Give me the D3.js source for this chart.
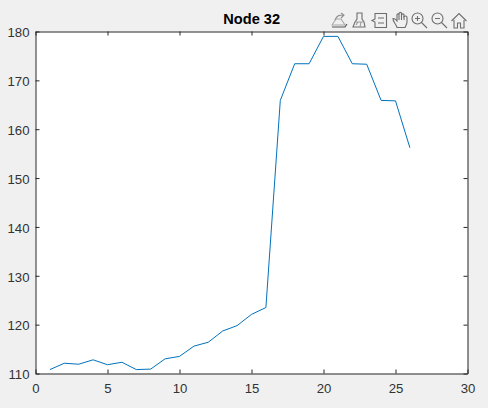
<!DOCTYPE html>
<html><head><meta charset="utf-8">
<script src="https://cdn.jsdelivr.net/npm/d3@7"></script>
<style>html,body{margin:0;padding:0;background:#f0f0f0;overflow:hidden}svg{display:block}text{font-family:"Liberation Sans",Arial,sans-serif}</style>
</head><body><svg id="c" width="488" height="408"></svg>
<script>
const chartTitle = "Node 32";
const nodeIndex = [1,2,3,4,5,6,7,8,9,10,11,12,13,14,15,16,17,18,19,20,21,22,23,24,25,26];
const nodeValues = [110.8,112.1,111.9,112.8,111.8,112.3,110.8,110.9,113,113.5,115.6,116.4,118.7,119.8,122.1,123.5,165.9,173.4,173.4,179,179,173.4,173.3,165.9,165.8,156.2];
const xTicks = [0,5,10,15,20,25,30];
const yTicks = [110,120,130,140,150,160,170,180];

const L=35.5,R=467.5,T=31.5,B=373.5;
const svg=d3.select("#c");
svg.append("rect").attr("width",488).attr("height",408).attr("fill","#f0f0f0");
svg.append("rect").attr("x",L).attr("y",T).attr("width",R-L).attr("height",B-T).attr("fill","#fff");
const x=d3.scaleLinear().domain([0,30]).range([L,R]);
const y=d3.scaleLinear().domain([110,180]).range([B,T]);

svg.append("path").datum(nodeValues)
  .attr("fill","none").attr("stroke","#0072bd").attr("stroke-width",1)
  .attr("d",d3.line().x((d,i)=>x(nodeIndex[i])).y(d=>y(d)));

const style=(g,hideLabels)=>{
  g.select(".domain").attr("stroke","#262626");
  g.selectAll(".tick line").attr("stroke","#262626");
  g.selectAll("text").attr("fill","#333").attr("font-size",13.2);
  if(hideLabels) g.selectAll("text").remove();
};
const ax=(gen,tx,ty,hide)=>svg.append("g").attr("transform",`translate(${tx},${ty})`).call(gen).call(g=>style(g,hide));
ax(d3.axisBottom(x).tickValues(xTicks).tickSize(-4).tickSizeOuter(0).tickPadding(10),0,B,false);
ax(d3.axisTop(x).tickValues(xTicks).tickSize(-4).tickSizeOuter(0),0,T,true);
ax(d3.axisLeft(y).tickValues(yTicks).tickSize(-4).tickSizeOuter(0).tickPadding(6),L,0,false)
  .selectAll("text").attr("transform","translate(0,1)");
ax(d3.axisRight(y).tickValues(yTicks).tickSize(-4).tickSizeOuter(0),R,0,true);

svg.append("text").attr("x",251.7).attr("y",24).attr("text-anchor","middle")
  .attr("font-size",14.6).attr("font-weight","bold").attr("fill","#000").text(chartTitle);

// toolbar icons
const tb=svg.append("g").attr("fill","none").attr("stroke","#6e6e6e").attr("stroke-width",1.1);
const icon=(tx,draw)=>draw(tb.append("g").attr("transform",`translate(${tx},12)`));
icon(331,g=>{ // edit plot
  g.append("path").attr("d","M1 13 L5 7 L10 7 L14 13 Z").attr("stroke","#a8a8a8");
  g.append("path").attr("d","M4 8 C6 3 9 3 12 3 M10 1 L13 3 L10 6").attr("stroke","#909090");
  g.append("path").attr("d","M1 15 H14 L16 12").attr("stroke","#555");
});
icon(352,g=>{ // brush
  g.append("path").attr("d","M5 1 H10 V7 L12 10 L13 15 H1 L3 10 L5 7 Z");
  g.append("path").attr("d","M3 10 H12 M4 13 L6 10 M8 15 L9 10").attr("stroke","#999");
});
icon(371,g=>{ // legend
  g.append("path").attr("d","M4 1.5 H15.5 V15.5 H4 V10 L1 8.5 L4 7 Z");
  g.append("path").attr("d","M7 6 H13 M7 11 H13");
});
icon(392,g=>{ // hand
  g.append("path").attr("d","M5 15.5 C4 12 0.5 9 1 6.5 C3 6 4 8 5 9 V3 C5 1.5 7 1.5 7 3 V1.5 C7.5 0 9.5 0 9.5 1.5 V3 C10 1.5 12 1.5 12 3 V4.5 C13 3.5 15 4 15 5.5 V10 C15 12 14 13.5 13 15.5 Z");
  g.append("path").attr("d","M7 3 V8 M9.5 3 V8 M12 4 V8");
});
icon(411,g=>{ // zoom in
  g.append("circle").attr("cx",6.5).attr("cy",6.5).attr("r",5.5);
  g.append("path").attr("d","M10.5 10.5 L16 16 M4 6.5 H9 M6.5 4 V9");
});
icon(431,g=>{ // zoom out
  g.append("circle").attr("cx",6.5).attr("cy",6.5).attr("r",5.5);
  g.append("path").attr("d","M10.5 10.5 L16 16 M4 6.5 H9");
});
icon(451,g=>{ // home
  g.append("path").attr("d","M0.5 9 L8 1.5 L15.5 9 M3 8 V16 H6.5 V11 H9.5 V16 H13 V8");
});
</script></body></html>
